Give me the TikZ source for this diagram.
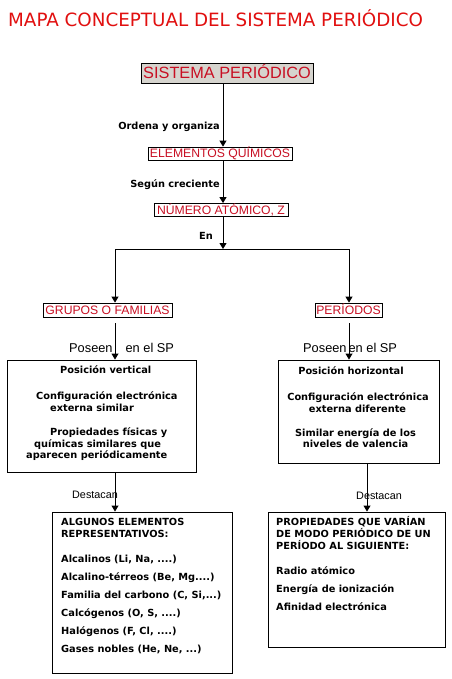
\documentclass[tikz,border=0pt]{standalone}
\usepackage{fontspec}
\setmainfont{Liberation Sans}
\newfontfamily\verd{DejaVu Sans}
\usetikzlibrary{arrows.meta}
\definecolor{titlered}{RGB}{225,15,15}
\definecolor{boxred}{RGB}{200,15,35}
\definecolor{boxgray}{RGB}{214,212,206}
\begin{document}
\begin{tikzpicture}[x=1pt,y=-1pt,
  redbox/.style={draw=black, line width=0.8pt, inner sep=0pt, text=boxred,
    font=\fontsize{12.2}{14}\selectfont, text height=8.7pt, text depth=0pt},
  infobox/.style={draw=black, line width=0.9pt, inner sep=0pt},
  lbl/.style={inner sep=0pt, anchor=west, text height=7pt, text depth=0pt,
    font=\verd\bfseries\fontsize{9.8}{12}\selectfont},
  thin/.style={inner sep=0pt, anchor=west, text height=9pt, text depth=0pt,
    font=\fontsize{12.8}{14}\selectfont},
  small/.style={inner sep=0pt, anchor=west, text height=7.7pt, text depth=0pt,
    font=\fontsize{10.8}{12}\selectfont},
  conn/.style={draw=black, line width=0.9pt},
  arr/.style={conn, -{Triangle[width=7pt,length=6pt]}}]
\useasboundingbox (0,0) rectangle (451,679);
\fill[white] (0,0) rectangle (451,679);

% title
\node[font=\verd\fontsize{18.3}{20}\selectfont, text=titlered, anchor=base west, inner sep=0pt] (title) at (8,27) {MAPA CONCEPTUAL DEL SISTEMA PERIÓDICO};

% concept boxes
\node[redbox, fill=boxgray, minimum width=172pt, minimum height=20pt,
  font=\fontsize{16.3}{18}\selectfont, text height=11.7pt] (sp) at (227,73) {SISTEMA PERIÓDICO};
\node[redbox, minimum width=144pt, minimum height=13pt] (el) at (220,153.5) {ELEMENTOS QUÍMICOS};
\node[redbox, minimum width=134pt, minimum height=13pt] (na) at (221,210) {NÚMERO ATÓMICO, Z};
\node[redbox, minimum width=129pt, minimum height=14pt] (gr) at (107.5,310) {GRUPOS O FAMILIAS};
\node[redbox, minimum width=67pt, minimum height=14pt] (pe) at (348.5,310) {PERÍODOS};

% info boxes
\node[infobox, minimum width=189pt, minimum height=112pt] (lb) at (101.5,416) {};
\node[infobox, minimum width=161pt, minimum height=103pt] (rb) at (358.5,411.5) {};
\node[infobox, minimum width=180pt, minimum height=161pt] (llb) at (142,592.5) {};
\node[infobox, minimum width=177pt, minimum height=135pt] (lrb) at (356.5,579.5) {};

% link labels
\node[lbl, anchor=east] (l1) at (220,126) {Ordena y organiza};
\node[lbl, anchor=east] (l2) at (220,184) {Según creciente};
\node[lbl, anchor=east] (l3) at (213,236) {En};
\node[thin] (l4) at (69,348) {Poseen\hspace{13pt}en el SP};
\node[thin] (l5) at (303,348) {Poseen\hspace{2pt}en el SP};
\node[small] (l6) at (72,495) {Destacan};
\node[small] (l7) at (356,496) {Destacan};

% left box text
\node[lbl] (a1) at (60,370) {Posición vertical};
\node[lbl] (a2) at (36,396) {Configuración electrónica};
\node[lbl] (a3) at (50,407.5) {externa similar};
\node[lbl] (a4) at (50,432) {Propiedades físicas y};
\node[lbl] (a5) at (34,443.5) {químicas similares que};
\node[lbl] (a6) at (26,455) {aparecen periódicamente};

% right box text
\node[lbl, anchor=center] (b1) at (351,371) {Posición horizontal};
\node[lbl, anchor=center] (b2) at (358,397) {Configuración electrónica};
\node[lbl, anchor=center] (b3) at (357.5,408.5) {externa diferente};
\node[lbl, anchor=center] (b4) at (355.5,432.5) {Similar energía de los};
\node[lbl, anchor=center] (b5) at (355.5,444) {niveles de valencia};

% lower left text
\node[lbl] (c1) at (61,522) {ALGUNOS ELEMENTOS};
\node[lbl] (c2) at (61,533.5) {REPRESENTATIVOS:};
\node[lbl] (c3) at (61,559) {Alcalinos (Li, Na, ....)};
\node[lbl] (c4) at (61,577) {Alcalino-térreos (Be, Mg....)};
\node[lbl] (c5) at (61,595) {Familia del carbono (C, Si,...)};
\node[lbl] (c6) at (61,613) {Calcógenos (O, S, ....)};
\node[lbl] (c7) at (61,631) {Halógenos (F, Cl, ....)};
\node[lbl] (c8) at (61,649) {Gases nobles (He, Ne, ...)};

% lower right text
\node[lbl] (d1) at (276,522) {PROPIEDADES QUE VARÍAN};
\node[lbl] (d2) at (276,534) {DE MODO PERIÓDICO DE UN};
\node[lbl] (d3) at (276,546) {PERÍODO AL SIGUIENTE:};
\node[lbl] (d4) at (276,571) {Radio atómico};
\node[lbl] (d5) at (276,589) {Energía de ionización};
\node[lbl] (d6) at (276,607) {Afinidad electrónica};

% guide coordinates
\coordinate (spine) at (223,0);
\coordinate (hub) at (223,249);
\coordinate (lx) at (115,0);
\coordinate (rx) at (349,0);
\coordinate (rx2) at (367,0);

% connectors
\draw[arr] (sp.south -| spine) -- (el.north -| spine);
\draw[arr] (el.south -| spine) -- (na.north -| spine);
\draw[arr] (na.south -| spine) -- (hub);
\draw[arr] (hub) -| (gr.north -| lx);
\draw[arr] (hub) -| (pe.north -| rx);
\draw[arr, shorten <=6pt] (gr.south -| lx) -- (lb.north -| lx);
\draw[arr, shorten <=6pt] (pe.south -| rx) -- (rb.north -| rx);
\draw[arr] (lb.south -| lx) -- (llb.north -| lx);
\draw[arr] (rb.south -| rx2) -- (lrb.north -| rx2);
\end{tikzpicture}
\end{document}
